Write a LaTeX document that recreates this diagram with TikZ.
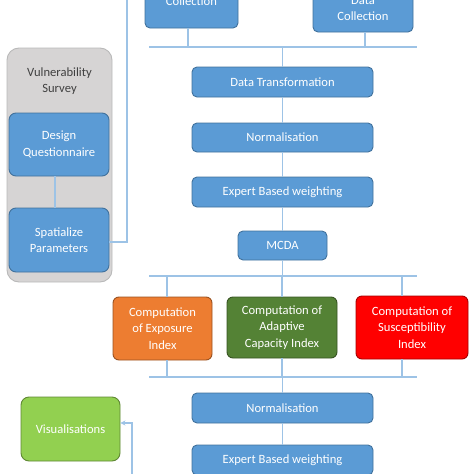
\documentclass[tikz,border=0pt]{standalone}
\usepackage{fontspec}
\setmainfont{Carlito}
\usetikzlibrary{positioning, arrows.meta}
\definecolor{boxblue}{HTML}{5B9BD5}
\definecolor{edgeblue}{HTML}{41719C}
\definecolor{linkblue}{HTML}{9DC3E6}
\definecolor{panelgrey}{HTML}{D6D4D4}
\definecolor{expoorange}{HTML}{ED7D31}
\definecolor{adaptgreen}{HTML}{548235}
\definecolor{suscred}{HTML}{FF0000}
\definecolor{visgreen}{HTML}{92D050}

\begin{document}
\begin{tikzpicture}[
        x=1pt, y=1pt,
        every node/.style={align=center, font=\fontsize{12.6}{16.5}\selectfont, text=white, inner sep=2pt},
        bluebox/.style={draw=edgeblue, fill=boxblue, rectangle, rounded corners=5pt, line width=0.9pt},
        colbox/.style={draw=#1!65!black, fill=#1, rectangle, rounded corners=6pt, line width=0.9pt},
        link/.style={draw=linkblue, line width=1.2pt},
        arrow/.style={link, -{Stealth[length=5pt, width=5pt]}}
    ]
    \useasboundingbox (0,0) rectangle (474,-474);
    \clip (0,0) rectangle (474,-474);

    % 1. Collection Nodes (cut at the top)
    \node[bluebox, minimum width=93pt, minimum height=53pt] (collectL) at (191.5,-1.5) {Collection};
    \node[bluebox, minimum width=100pt, minimum height=47pt] (collectR) at (363,-8.5) {Data\\Collection};

    % 2. Survey Panel
    \node[draw=gray!55, fill=panelgrey, rectangle, rounded corners=12pt, minimum width=105pt, minimum height=234pt, line width=0.9pt] (panel) at (59.5,-165) {};
    \node[text=black!75] (survey) at (59.5,-81) {Vulnerability\\Survey};
    \node[bluebox, rounded corners=7pt, minimum width=100pt, minimum height=63pt] (design) at (59,-144.5) {Design\\Questionnaire};
    \node[bluebox, rounded corners=7pt, minimum width=100pt, minimum height=64pt] (spatial) at (59,-240) {Spatialize\\Parameters};

    % 3. Main Chain
    \node[bluebox, minimum width=181pt, minimum height=30pt] (transform) at (282.5,-82) {Data Transformation};
    \node[bluebox, minimum width=181pt, minimum height=29pt] (norm) at (282.5,-137.5) {Normalisation};
    \node[bluebox, minimum width=181pt, minimum height=30pt] (weight) at (282.5,-192) {Expert Based weighting};
    \node[bluebox, minimum width=89pt, minimum height=29pt] (mcda) at (282.5,-245.5) {MCDA};

    % 4. Index Nodes
    \node[colbox=expoorange, minimum width=99pt, minimum height=63pt] (expo) at (162.5,-328.5) {Computation\\of Exposure\\Index};
    \node[colbox=adaptgreen, minimum width=110pt, minimum height=61pt] (adapt) at (282,-327.5) {Computation of\\Adaptive\\Capacity Index};
    \node[colbox=suscred, minimum width=112pt, minimum height=63pt] (susc) at (412,-327.5) {Computation of\\Susceptibility\\Index};

    % 5. Lower Chain
    \node[bluebox, minimum width=181pt, minimum height=30pt] (norm2) at (282.5,-408) {Normalisation};
    \node[bluebox, minimum width=181pt, minimum height=30pt] (weight2) at (282.5,-460) {Expert Based weighting};
    \node[colbox=visgreen, rounded corners=8pt, minimum width=99pt, minimum height=64pt] (vis) at (70.5,-429) {Visualisations};

    % Bus Coordinates
    \coordinate (busA) at (149,-47);
    \coordinate (busAend) at (417,-47);
    \coordinate (busB) at (149,-276);
    \coordinate (busBend) at (417,-276);
    \coordinate (busC) at (149,-377);
    \coordinate (busCend) at (417,-377);
    \coordinate (feedtop) at (127,5);
    \coordinate (feedbot) at (132,-480);

    % Top Bus
    \draw[link] (busA) -- (busAend);
    \draw[link] ([xshift=-3.5pt]collectL.south) -- ([xshift=-3.5pt]collectL.south |- busA);
    \draw[link] ([xshift=2pt]collectR.south) -- ([xshift=2pt]collectR.south |- busA);
    \draw[link] (transform.north |- busA) -- (transform.north);

    % Survey Links
    \draw[link] ([xshift=-4pt]design.south) -- ([xshift=-4pt]spatial.north);
    \draw[link] (feedtop) |- ([yshift=-2pt]spatial.east);

    % Main Vertical Links
    \draw[link] (transform) -- (norm);
    \draw[link] (norm) -- (weight);
    \draw[link] (weight) -- (mcda);
    \draw[link] (mcda.south) -- (mcda.south |- busB);

    % Middle Buses
    \draw[link] (busB) -- (busBend);
    \draw[link] (busC) -- (busCend);
    \draw[link] ([xshift=4.5pt]expo.north |- busB) -- ([xshift=4.5pt]expo.north);
    \draw[link] (adapt.north |- busB) -- (adapt.north);
    \draw[link] ([xshift=-10pt]susc.north |- busB) -- ([xshift=-10pt]susc.north);
    \draw[link] ([xshift=4.5pt]expo.south) -- ([xshift=4.5pt]expo.south |- busC);
    \draw[link] (adapt.south) -- (adapt.south |- busC);
    \draw[link] ([xshift=-10pt]susc.south) -- ([xshift=-10pt]susc.south |- busC);

    % Lower Links
    \draw[link] (norm2.north |- busC) -- (norm2.north);
    \draw[link] (norm2) -- (weight2);
    \draw[arrow] (feedbot) |- ([yshift=6pt]vis.east);

\end{tikzpicture}
\end{document}
